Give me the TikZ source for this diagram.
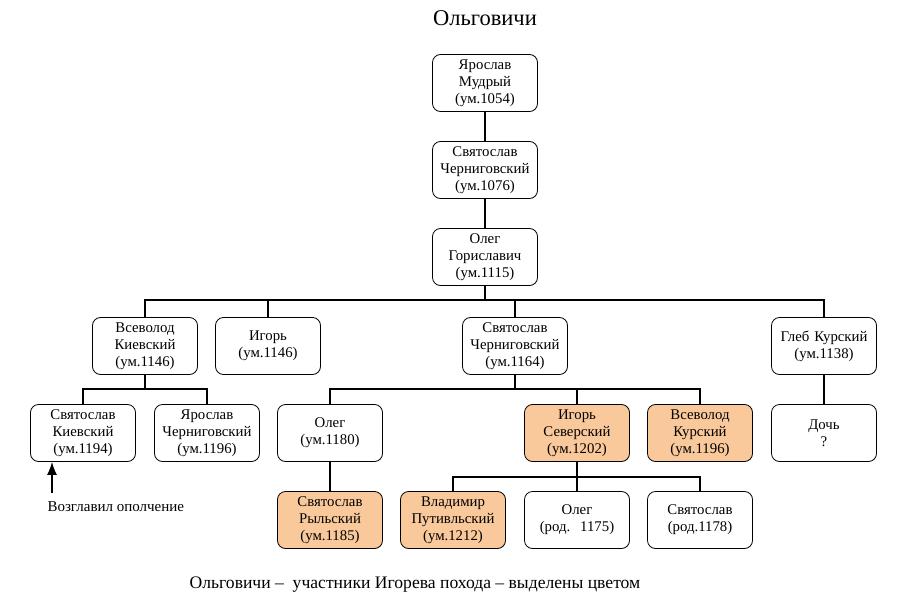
\documentclass[tikz,border=0pt]{standalone}
\usepackage{fontspec}
\setmainfont{Liberation Serif}
\usetikzlibrary{arrows.meta,positioning,calc}
\definecolor{campaign}{RGB}{250,201,155}
\tikzset{person/.style={draw, rounded corners=8pt, line width=0.8pt, minimum width=105pt,
  minimum height=57pt, text width=104pt, align=center, inner sep=0pt,
  font=\fontsize{14.8}{17}\selectfont},
  marked/.style={person, fill=campaign},
  link/.style={line width=1.3pt}}

\begin{document}
\begin{tikzpicture}[x=1pt,y=-1pt]
        \useasboundingbox (0,0) rectangle (910,610);
        \node[font=\fontsize{22.5}{26}\selectfont] (title) at (485,18) {Ольговичи};

        \node[person] (yaroslav) at (485,83) {Ярослав\\Мудрый\\(ум.1054)};
        \node[person] (svyatCh1) at (485,170) {Святослав\\Черниговский\\(ум.1076)};
        \node[person] (olegG) at (485,257) {Олег\\Гориславич\\(ум.1115)};

        \node[person] (vsevolodK) at (145,346) {Всеволод\\Киевский\\(ум.1146)};
        \node[person] (igor1) at (268,346) {Игорь\\(ум.1146)\\[14pt]};
        \node[person] (svyatCh2) at (515,346) {Святослав\\Черниговский\\(ум.1164)};
        \node[person] (gleb) at (824,346) {Глеб Курский\\(ум.1138)\\[14pt]};

        \node[person] (svyatK) at (83,433) {Святослав\\Киевский\\(ум.1194)};
        \node[person] (yaroslavCh) at (207,433) {Ярослав\\Черниговский\\(ум.1196)};
        \node[person] (oleg1) at (330,433) {Олег\\(ум.1180)\\[14pt]};
        \node[marked] (igorS) at (577,433) {Игорь\\Северский\\(ум.1202)};
        \node[marked] (vsevolodKu) at (700,433) {Всеволод\\Курский\\(ум.1196)};
        \node[person] (doch) at (824,433) {Дочь\\ ?};

        \node[marked] (svyatR) at (330,520) {Святослав\\Рыльский\\(ум.1185)};
        \node[marked] (vladimir) at (453,520) {Владимир\\Путивльский\\(ум.1212)};
        \node[person] (oleg2) at (577,520) {Олег\\(род.\ \ 1175)\\[14pt]};
        \node[person] (svyat2) at (700,520) {Святослав\\(род.1178)\\[14pt]};

        % bars between generations
        \coordinate (bar1) at (485,300);
        \coordinate (bar2) at (145,389);
        \coordinate (bar3) at (515,389);
        \coordinate (bar4) at (577,477);

        \draw[link] (yaroslav) -- (svyatCh1);
        \draw[link] (svyatCh1) -- (olegG);
        \draw[link] (olegG) -- (bar1);
        \draw[link] (vsevolodK.north) |- (gleb.north |- bar1) -- (gleb.north);
        \draw[link] (igor1.north) -- (igor1.north |- bar1);
        \draw[link] (svyatCh2.north) -- (svyatCh2.north |- bar1);

        \draw[link] (vsevolodK) -- (bar2);
        \draw[link] (svyatK.north) |- (yaroslavCh.north |- bar2) -- (yaroslavCh.north);

        \draw[link] (svyatCh2) -- (bar3);
        \draw[link] (oleg1.north) |- (vsevolodKu.north |- bar3) -- (vsevolodKu.north);
        \draw[link] (igorS.north) -- (igorS.north |- bar3);
        \draw[link] (gleb) -- (doch);

        \draw[link] (oleg1) -- (svyatR);
        \draw[link] (igorS) -- (bar4);
        \draw[link] (vladimir.north) |- (svyat2.north |- bar4) -- (svyat2.north);
        \draw[link] (oleg2.north) -- (oleg2.north |- bar4);

        \coordinate (leader) at (52,493);
        \draw[link, -{Latex[length=13pt,width=10pt]}] (leader) -- (leader |- svyatK.south);
        \node[anchor=west, font=\fontsize{15}{17}\selectfont] (note) at (44,507) {Возглавил ополчение};

        \node[font=\fontsize{17.6}{20}\selectfont] (caption) at (415,585) {Ольговичи --\ \ участники Игорева похода -- выделены цветом};
    \end{tikzpicture}
\end{document}
